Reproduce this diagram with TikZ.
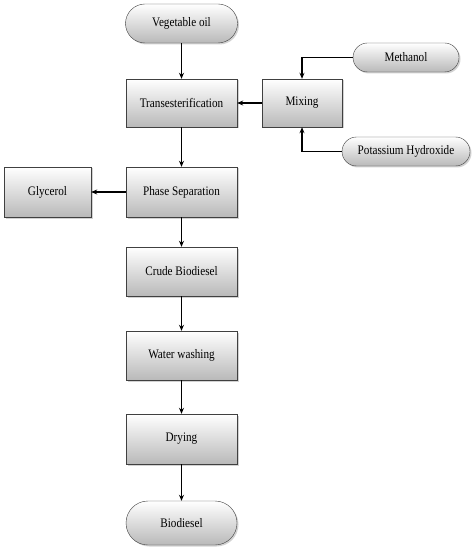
\documentclass[tikz,border=0pt]{standalone}
\usepackage{fontspec}
\setmainfont[FakeStretch=0.86]{Liberation Serif}
\usetikzlibrary{shapes.misc,shadows,arrows.meta}
\begin{document}
\begin{tikzpicture}[x=1pt,y=-1pt,>={Stealth[length=6pt,width=5pt]},font=\fontsize{13}{15}\selectfont,stepbox/.style={shape=rectangle,draw=black!75,top color=white,bottom color=gray!55,drop shadow={shadow xshift=1.5pt,shadow yshift=-1.5pt,fill=gray!70},minimum width=111pt,minimum height=48pt,inner sep=0pt},term/.style={shape=rounded rectangle,draw=black!75,top color=white,bottom color=gray!55,drop shadow={shadow xshift=1.5pt,shadow yshift=-1.5pt,fill=gray!70},inner sep=0pt},flow/.style={->,line width=1.1pt}]
\def\cx{181.5};
\def\mx{302};
\def\sx{406};

\useasboundingbox (0,0) rectangle (474,548);

\node[term,minimum width=112pt,minimum height=39pt] (V) at (\cx,23.5) {Vegetable oil};

\node[stepbox] (T) at (\cx,103) {Transesterification};
\draw[flow] (V.south) -- (T.north);
\node[stepbox,minimum width=80pt] (M) at (\mx,103) {Mixing};
\draw[flow] (M.west) -- (T.east);
\node[term,minimum width=106pt,minimum height=29pt] (Me) at (\sx,57.5) {Methanol};
\draw[flow] (Me.west) -| (M.north);
\node[term,minimum width=128pt,minimum height=29pt] (K) at (\sx,151.5) {Potassium Hydroxide};
\draw[flow] (K.west) -| (M.south);

\node[stepbox,minimum height=50pt] (P) at (\cx,192) {Phase Separation};
\draw[flow] (T.south) -- (P.north);
\node[stepbox,minimum width=87pt,minimum height=50pt] (G) at (47.5,192) {Glycerol};
\draw[flow] (P.west) -- (G.east);

\node[stepbox,minimum height=49pt] (C) at (\cx,271.5) {Crude Biodiesel};
\draw[flow] (P.south) -- (C.north);
\node[stepbox,minimum height=49pt] (W) at (\cx,355.5) {Water washing};
\draw[flow] (C.south) -- (W.north);
\node[stepbox,minimum height=50pt] (D) at (\cx,439) {Drying};
\draw[flow] (W.south) -- (D.north);
\node[term,minimum width=111pt,minimum height=44pt] (B) at (\cx,523) {Biodiesel};
\draw[flow] (D.south) -- (B.north);
\end{tikzpicture}
\end{document}
